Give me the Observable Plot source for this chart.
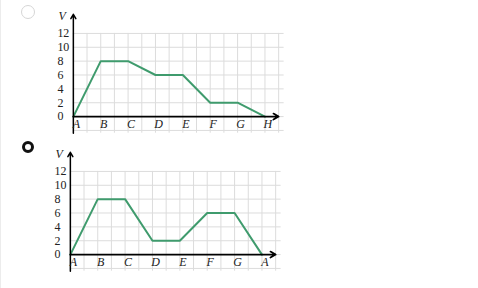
<!DOCTYPE html>
<html>
<head>
<meta charset="utf-8">
<script src="https://cdn.jsdelivr.net/npm/d3@7"></script>
<script src="https://cdn.jsdelivr.net/npm/@observablehq/plot@0.6"></script>
<style>
  html, body { margin: 0; padding: 0; background: #fff; }
  #page { position: relative; width: 478px; height: 288px; overflow: hidden; border-left: 1px solid #ececec; box-sizing: border-box; }
  .chart { position: absolute; }
  .radio { position: absolute; border-radius: 50%; box-sizing: border-box; }
</style>
</head>
<body>
<div id="page">
  <div class="radio" style="left:20px; top:5px; width:14px; height:14px; border:1px solid #d6d6d6;"></div>
  <div class="radio" style="left:21px; top:141px; width:12px; height:12px; border:3px solid #111;"></div>
  <div id="c1" class="chart" style="left:-1px; top:0px;"></div>
  <div id="c2" class="chart" style="left:-1px; top:138px;"></div>
</div>
<script>
// ---- data ----
const topLabels = ["A", "B", "C", "D", "E", "F", "G", "H"];
const topValues = [0, 8, 8, 6, 6, 2, 2, 0];
const bottomLabels = ["A", "B", "C", "D", "E", "F", "G", "A"];
const bottomValues = [0, 8, 8, 2, 2, 6, 6, 0];
const yTicks = [0, 2, 4, 6, 8, 10, 12];
const yGrid = [-2, 0, 2, 4, 6, 8, 10, 12];
const axisName = "V";

// ---- layout constants ----
const W = 479;
const xMax = 7.7, xArrowEnd = 7.5;
const yMin = -2.4, yMax = 12, yArrowTop = 14.75;
const pxPerX = 27.43;
const green = "#3f9b6d";
const grid = "#dcdcdc";
const serif = "Liberation Serif";

function makeChart(labels, values, marginLeft) {
  const marginTop = 33, marginBottom = 7;
  const plotH = 100;
  const marginRight = W - marginLeft - xMax * pxPerX;
  const xs = d3.range(0, 8, 0.5);
  return Plot.plot({
    width: W,
    height: marginTop + plotH + marginBottom,
    marginLeft, marginRight, marginTop, marginBottom,
    x: { domain: [0, xMax], axis: null },
    y: { domain: [yMin, yMax], axis: null },
    style: { background: "transparent", overflow: "visible", fontFamily: serif, fontSize: "12px" },
    marks: [
      Plot.ruleX(xs, { x: d => d, y1: yMin, y2: yMax, stroke: grid, strokeWidth: 1 }),
      Plot.ruleY(yGrid, { y: d => d, x1: 0, x2: xMax, stroke: grid, strokeWidth: 1 }),
      Plot.line(values, { x: (d, i) => i, y: d => d, stroke: green, strokeWidth: 2, strokeLinejoin: "miter" }),
      Plot.arrow([0], { x1: 0, y1: 0, x2: xArrowEnd, y2: 0, stroke: "#000", strokeWidth: 1.8, headLength: 5 }),
      Plot.arrow([0], { x1: 0, y1: yMin, x2: 0, y2: yArrowTop, stroke: "#000", strokeWidth: 1.5, headLength: 5 }),
      Plot.text(yTicks, { x: 0, y: d => d, text: d => String(d), textAnchor: "start", dx: -16, fontFamily: serif, fontSize: 12, fill: "#222" }),
      Plot.text(labels, { x: (d, i) => i, y: 0, text: d => d, dx: 3, dy: 8, fontFamily: serif, fontStyle: "italic", fontSize: 12, fill: "#222" }),
      Plot.text([axisName], { x: 0, y: yArrowTop, text: d => d, dx: -15, dy: 2, textAnchor: "start", fontFamily: serif, fontStyle: "italic", fontSize: 12, fill: "#222" })
    ]
  });
}

document.getElementById("c1").appendChild(makeChart(topLabels, topValues, 73));
document.getElementById("c2").appendChild(makeChart(bottomLabels, bottomValues, 70));
</script>
</body>
</html>
